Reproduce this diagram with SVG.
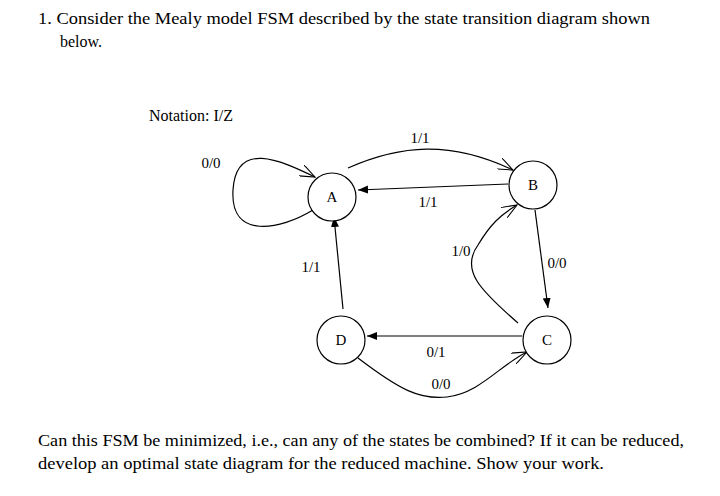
<svg xmlns="http://www.w3.org/2000/svg" width="720" height="496" viewBox="0 0 720 496">
<style>
text{font-family:"Liberation Serif",serif;font-size:16px;fill:#000}
.st circle{fill:#fff;stroke:#000;stroke-width:1.2}
.st text{text-anchor:middle;font-size:15px}
.e{fill:none;stroke:#000;stroke-width:1.2}
.f{marker-end:url(#fa)}
.o{marker-end:url(#oa)}
.lb{text-anchor:middle;font-size:15px}
</style>
<defs>
<marker id="fa" viewBox="0 0 10 10" refX="10" refY="5" markerWidth="10" markerHeight="10" markerUnits="userSpaceOnUse" orient="auto"><path d="M0,1 L10,5 L0,9 z" fill="#000"/></marker>
<marker id="oa" viewBox="0 0 16 12" refX="15" refY="6" markerWidth="16" markerHeight="12" markerUnits="userSpaceOnUse" orient="auto"><path d="M0,0 L15,6 L0,12" fill="none" stroke="#000" stroke-width="1.1"/></marker>
</defs>
<rect width="720" height="496" fill="#fff"/>
<text x="38" y="24" textLength="612" lengthAdjust="spacingAndGlyphs">1.  Consider the Mealy model FSM described by the state transition diagram shown</text>
<text x="60" y="47">below.</text>
<text x="149" y="121">Notation: I/Z</text>
<g id="connectors">
<path class="e o" d="M313,210 C280,230 230,240 233,190 C236,140 280,160 315,177"/>
<path class="e o" d="M348,168 C400,145 450,140 513,170"/>
<path class="e f" d="M508,184 L358,190"/>
<path class="e f" d="M535,210 L548,308"/>
<path class="e o" d="M518,323 C480,290 460,270 478,245 C490,225 500,215 517,205"/>
<path class="e f" d="M522,336 L367,336"/>
<path class="e o" d="M358,358 C400,390 420,400 447,397 C480,393 500,365 527,352"/>
<path class="e f" d="M343,309 L334,217"/>
</g>
<g id="A" class="st"><circle cx="332" cy="197" r="24"/><text x="332" y="202">A</text></g>
<g id="B" class="st"><circle cx="533" cy="185" r="24"/><text x="533" y="190">B</text></g>
<g id="C" class="st"><circle cx="547" cy="340" r="24"/><text x="547" y="345">C</text></g>
<g id="D" class="st"><circle cx="341" cy="340" r="24"/><text x="341" y="345">D</text></g>
<g id="labels">
<text class="lb" x="211" y="168">0/0</text>
<text class="lb" x="420" y="143">1/1</text>
<text class="lb" x="428" y="207">1/1</text>
<text class="lb" x="461" y="256">1/0</text>
<text class="lb" x="557" y="268">0/0</text>
<text class="lb" x="311" y="272">1/1</text>
<text class="lb" x="436" y="357">0/1</text>
<text class="lb" x="441" y="389">0/0</text>
</g>
<text x="38" y="446" textLength="646" lengthAdjust="spacingAndGlyphs">Can this FSM be minimized, i.e., can any of the states be combined? If it can be reduced,</text>
<text x="38" y="469" textLength="566" lengthAdjust="spacingAndGlyphs">develop an optimal state diagram for the reduced machine. Show your work.</text>
</svg>
